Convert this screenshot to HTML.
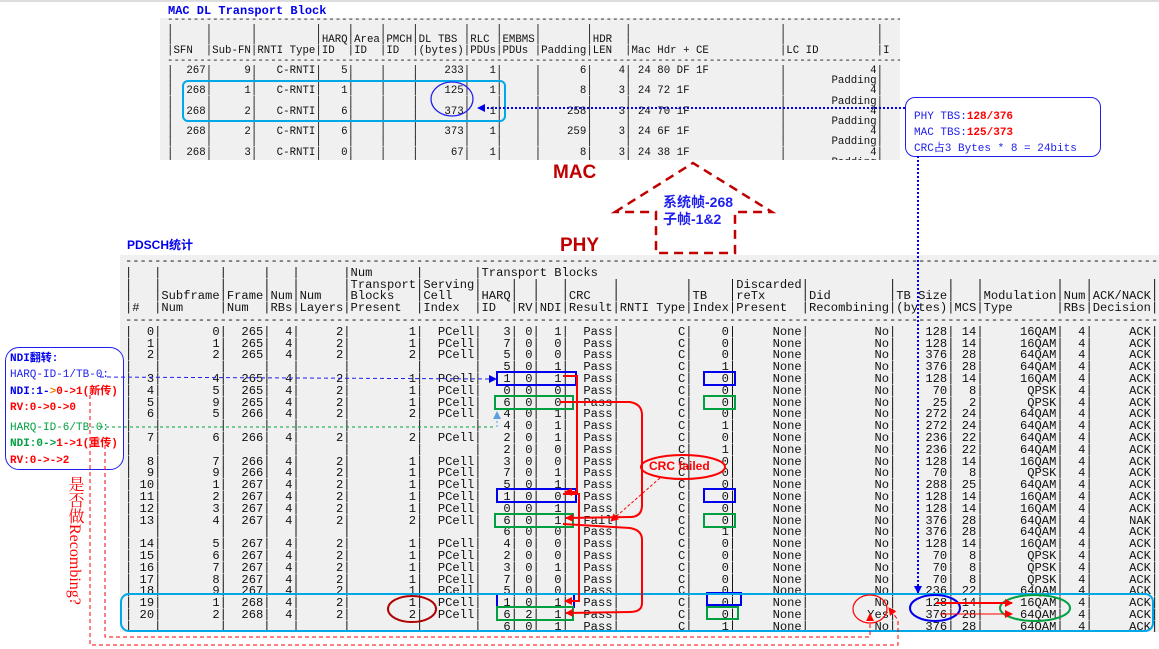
<!DOCTYPE html>
<html><head><meta charset="utf-8"><style>
html,body{margin:0;padding:0;background:#fff;}
body{width:1159px;height:649px;position:relative;overflow:hidden;font-family:"Liberation Sans","Noto Sans CJK SC",sans-serif;}
.panel{position:absolute;background:#f0f0f0;overflow:hidden;}
pre{margin:0;position:absolute;font-family:"Liberation Mono",monospace;color:#111;white-space:pre;}
#mac{left:7px;top:-3px;font-size:10.75px;line-height:10.2px;}
#phy{left:5px;top:1px;font-size:12.13px;line-height:11.8px;}
.t{position:absolute;white-space:nowrap;}
svg{position:absolute;left:0;top:0;}
</style></head><body>
<div style="position:absolute;left:0;top:0;width:1159px;height:2px;background:#ddd"></div>
<div class="t" style="left:168px;top:4px;font-family:'Liberation Mono',monospace;font-weight:bold;font-size:12px;color:#0000ee">MAC DL Transport Block</div>
<div class="panel" style="left:160px;top:18px;width:740px;height:142px"><pre id="mac"></pre></div>
<div class="panel" style="left:120px;top:255px;width:1039px;height:377px"><pre id="phy"></pre></div>
<div class="t" style="left:553px;top:162px;font-size:19px;font-weight:bold;color:#c00000">MAC</div>
<div class="t" style="left:560px;top:235px;font-size:19px;font-weight:bold;color:#c00000">PHY</div>
<div class="t" style="left:127px;top:236px;font-size:12px;font-weight:bold;color:#0000ee">PDSCH统计</div>
<div class="t" style="left:663px;top:194px;font-size:14px;font-weight:bold;color:#2020ee;line-height:17px">系统帧-268<br>子帧-1&amp;2</div>
<div style="position:absolute;left:905px;top:97px;width:194px;height:58px;border:1.5px solid #2020ee;border-radius:10px;background:#fff"></div>
<div class="t" style="left:914px;top:109px;font-family:'Liberation Mono','Noto Sans CJK SC',monospace;font-size:11px;color:#2020ee;line-height:16px">PHY TBS:<b style="color:#f00">128/376</b><br>MAC TBS:<b style="color:#f00">125/373</b><br>CRC占3 Bytes * 8 = 24bits</div>
<div style="position:absolute;left:5px;top:347px;width:117px;height:121px;border:1.5px solid #2020ee;border-radius:14px;background:#fff"></div>
<div class="t" style="left:10px;top:351px;font-family:'Liberation Mono','Noto Sans CJK SC',monospace;font-size:11px;line-height:16.3px">
<b style="color:#0000ee">NDI翻转:</b><br>
<span style="color:#2020ee">HARQ-ID-1/TB-0:</span><br>
<b><span style="color:#0000ee">NDI:1-</span><span style="color:#f08000">&gt;</span><span style="color:#f00">0-&gt;1(新传)</span></b><br>
<b style="color:#f00">RV:0-&gt;0-&gt;0</b><br>
<span style="color:#00a040;display:inline-block;margin-top:4px">HARQ-ID-6/TB-0:</span><br>
<b><span style="color:#00a040">NDI:0-&gt;</span><span style="color:#f00">1-&gt;1(重传)</span></b><br>
<b style="color:#f00">RV:0-&gt;-&gt;2</b></div>
<div style="position:absolute;left:62px;top:476px;width:24px;height:160px;writing-mode:vertical-rl;text-orientation:mixed;white-space:nowrap;font-family:'Liberation Serif','Noto Serif CJK SC',serif;font-size:16px;color:#f00">是否做Recombing?</div>
<div class="t" style="left:649px;top:459px;font-size:12px;font-weight:bold;color:#f00">CRC failed</div>
<svg width="1159" height="649" viewBox="0 0 1159 649">
<defs>
<marker id="ar" markerWidth="8" markerHeight="8" refX="7" refY="4" orient="auto" markerUnits="userSpaceOnUse"><path d="M0,0L8,4L0,8z" fill="#f00"/></marker>
<marker id="ab" markerWidth="8" markerHeight="8" refX="7" refY="4" orient="auto" markerUnits="userSpaceOnUse"><path d="M0,0L8,4L0,8z" fill="#0000ee"/></marker>
<marker id="ac" markerWidth="8" markerHeight="8" refX="7" refY="4" orient="auto" markerUnits="userSpaceOnUse"><path d="M0,0L8,4L0,8z" fill="#5aa0e0"/></marker>
</defs>
<rect x="183" y="81" width="322" height="40" rx="5" fill="none" stroke="#00a8e8" stroke-width="2"/>
<ellipse cx="452" cy="99" rx="21" ry="17" fill="none" stroke="#2020ee" stroke-width="1.3"/>
<line x1="905" y1="108" x2="478" y2="108" stroke="#0000ee" stroke-width="2" stroke-dasharray="2,2" marker-end="url(#ab)"/>
<line x1="918" y1="156" x2="918" y2="593" stroke="#0000ee" stroke-width="2" stroke-dasharray="2,2" marker-end="url(#ab)"/>
<path d="M615,212 L693,163 L772,212 L735,212 L735,253 L656,253 L656,212 Z" fill="none" stroke="#c00000" stroke-width="2.5" stroke-dasharray="9,6"/>
<g fill="none" stroke-width="2">
<rect x="497" y="372" width="79" height="13" stroke="#0000ee"/>
<rect x="495" y="396" width="78" height="13" stroke="#00a040"/>
<rect x="497" y="489" width="79" height="13" stroke="#0000ee"/>
<rect x="495" y="514" width="78" height="13" stroke="#00a040"/>
<rect x="497" y="594" width="77" height="13" stroke="#0000ee"/>
<rect x="497" y="607" width="76" height="13" stroke="#00a040"/>
<rect x="704" y="372" width="31" height="13" stroke="#0000ee"/>
<rect x="704" y="396" width="31" height="13" stroke="#00a040"/>
<rect x="704" y="489" width="31" height="13" stroke="#0000ee"/>
<rect x="704" y="514" width="31" height="13" stroke="#00a040"/>
<rect x="707" y="593" width="34" height="12" stroke="#0000ee"/>
<rect x="707" y="607" width="31" height="12" stroke="#00a040"/>
<rect x="121" y="594" width="1032" height="37" rx="8" stroke="#00a8e8"/>
<ellipse cx="412" cy="609" rx="24" ry="13" stroke="#b00000"/>
<ellipse cx="935" cy="608" rx="25" ry="13" stroke="#0000ee"/>
<ellipse cx="1035" cy="608" rx="35" ry="13" stroke="#00a040"/>
</g>
<ellipse cx="870" cy="609" rx="17" ry="14" fill="none" stroke="#f00" stroke-width="1.2"/>
<ellipse cx="683" cy="467" rx="42" ry="12" fill="none" stroke="#f00" stroke-width="2"/>
<line x1="660" y1="478" x2="611" y2="521" stroke="#f00" stroke-width="1" stroke-dasharray="3,2" marker-end="url(#ar)"/>
<g fill="none" stroke="#f00" stroke-width="2">
<path d="M563,376 L577,376 L577,492 L565,492" marker-end="url(#ar)"/>
<path d="M563,494 L579,494 L579,601 L565,601" marker-end="url(#ar)"/>
<path d="M560,402 L630,402 Q642,404 642,415 L642,505 Q642,517 630,517 L566,518" marker-end="url(#ar)"/>
<path d="M563,524 L630,528 Q642,530 642,540 L642,603 Q642,612 630,612 L566,613" marker-end="url(#ar)"/>
<line x1="936" y1="603" x2="1012" y2="603" marker-end="url(#ar)"/>
</g>
<line x1="940" y1="614" x2="1012" y2="614" stroke="#f00" stroke-width="1" marker-end="url(#ar)"/>
<line x1="100" y1="377" x2="496" y2="379" stroke="#2020ee" stroke-width="1" stroke-dasharray="4,3" marker-end="url(#ab)"/>
<line x1="100" y1="427" x2="496" y2="427" stroke="#00a040" stroke-width="1" stroke-dasharray="3,3"/>
<line x1="497" y1="427" x2="497" y2="412" stroke="#5aa0e0" stroke-width="1" stroke-dasharray="2,2" marker-end="url(#ac)"/>
<g fill="none" stroke="#f00" stroke-width="1" stroke-dasharray="4,3">
<path d="M90,395 L90,645 L898,645 L898,620 L889,608" marker-end="url(#ar)"/>
<path d="M105,445 L105,637 L870,637 L870,614" marker-end="url(#ar)"/>
</g>
</svg>
<script>
function cell(v,w,left){v=String(v);return left? v.padEnd(w).slice(0,w) : v.padStart(w).slice(-w);}
function row(vals,ws,lefts){var s='';for(var i=0;i<ws.length;i++){s+='|'+cell(vals[i]===undefined?'':vals[i],ws[i],lefts&&lefts[i]);}return s+'|';}
var mw=[5,6,9,4,4,4,7,4,5,7,5,23,14];
var mL=[];for(var i=0;i<13;i++){mL.push(true);}
var dash='-'.repeat(200);
var m=[dash,row([],mw)+' ',row(['','','','HARQ','Area','PMCH','DL TBS','RLC','EMBMS','','HDR','',''],mw,mL),row(['SFN','Sub-FN','RNTI Type','ID','ID','ID','(bytes)','PDUs','PDUs','Padding','LEN','Mac Hdr + CE','LC ID'],mw,mL)+'I',dash];
var md=[[267,9,'C-RNTI',5,'','',233,1,'',6,4,'24 80 DF 1F'],[268,1,'C-RNTI',1,'','',125,1,'',8,3,'24 72 1F'],[268,2,'C-RNTI',6,'','',373,1,'',258,3,'24 70 1F'],[268,2,'C-RNTI',6,'','',373,1,'',259,3,'24 6F 1F'],[268,3,'C-RNTI',0,'','',67,1,'',8,3,'24 38 1F']];
var ml=[false,false,false,false,false,false,false,false,false,false,false,true,false];
md.forEach(function(r){r[11]=' '+r[11];r.push(4);m.push(row(r,mw,ml));m.push(row(['','','','','','','','','','','','','Padding'],mw));});
document.getElementById('mac').textContent=m.join('\n');
var pw=[3,8,5,3,6,9,7,4,2,3,6,9,5,9,11,7,3,10,3,8];
var all=pw.map(function(){return true;});
var hd=[["","","","","","Num","","","","","","","","","","","","","",""],
["","","","","","Transport","Serving","","","","","","","Discarded","","","","","",""],
["","Subframe","Frame","Num","Num","Blocks","Cell","HARQ","","","CRC","","TB","reTx","Did","TB Size","","Modulation","Num","ACK/NACK"],
["#","Num","Num","RBs","Layers","Present","Index","ID","RV","NDI","Result","RNTI Type","Index","Present","Recombining","(bytes)","MCS","Type","RBs","Decision"]];
var L=[dash];
L.push(row(hd[0].slice(0,7),pw.slice(0,7),all)+'Transport Blocks'.padEnd(93)+'|');
L.push(row(hd[1],pw,all)+' ');
L.push(row(hd[2],pw,all)+' ');
L.push(row(hd[3],pw,all)+'I');
L.push(dash);
var d=[
[0,0,265,4,2,1,'PCell',3,0,1,'Pass','C',0,'None','No',128,14,'16QAM',4,'ACK'],
[1,1,265,4,2,1,'PCell',7,0,0,'Pass','C',0,'None','No',128,14,'16QAM',4,'ACK'],
[2,2,265,4,2,2,'PCell',5,0,0,'Pass','C',0,'None','No',376,28,'64QAM',4,'ACK'],
['','','','','','','',5,0,1,'Pass','C',1,'None','No',376,28,'64QAM',4,'ACK'],
[3,4,265,4,2,1,'PCell',1,0,1,'Pass','C',0,'None','No',128,14,'16QAM',4,'ACK'],
[4,5,265,4,2,1,'PCell',0,0,0,'Pass','C',0,'None','No',70,8,'QPSK',4,'ACK'],
[5,9,265,4,2,1,'PCell',6,0,0,'Pass','C',0,'None','No',25,2,'QPSK',4,'ACK'],
[6,5,266,4,2,2,'PCell',4,0,1,'Pass','C',0,'None','No',272,24,'64QAM',4,'ACK'],
['','','','','','','',4,0,1,'Pass','C',1,'None','No',272,24,'64QAM',4,'ACK'],
[7,6,266,4,2,2,'PCell',2,0,1,'Pass','C',0,'None','No',236,22,'64QAM',4,'ACK'],
['','','','','','','',2,0,0,'Pass','C',1,'None','No',236,22,'64QAM',4,'ACK'],
[8,7,266,4,2,1,'PCell',3,0,0,'Pass','C',0,'None','No',128,14,'16QAM',4,'ACK'],
[9,9,266,4,2,1,'PCell',7,0,1,'Pass','C',0,'None','No',70,8,'QPSK',4,'ACK'],
[10,1,267,4,2,1,'PCell',5,0,1,'Pass','C',0,'None','No',288,25,'64QAM',4,'ACK'],
[11,2,267,4,2,1,'PCell',1,0,0,'Pass','C',0,'None','No',128,14,'16QAM',4,'ACK'],
[12,3,267,4,2,1,'PCell',0,0,1,'Pass','C',0,'None','No',128,14,'16QAM',4,'ACK'],
[13,4,267,4,2,2,'PCell',6,0,1,'Fail','C',0,'None','No',376,28,'64QAM',4,'NAK'],
['','','','','','','',6,0,0,'Pass','C',1,'None','No',376,28,'64QAM',4,'ACK'],
[14,5,267,4,2,1,'PCell',4,0,0,'Pass','C',0,'None','No',128,14,'16QAM',4,'ACK'],
[15,6,267,4,2,1,'PCell',2,0,0,'Pass','C',0,'None','No',70,8,'QPSK',4,'ACK'],
[16,7,267,4,2,1,'PCell',3,0,1,'Pass','C',0,'None','No',70,8,'QPSK',4,'ACK'],
[17,8,267,4,2,1,'PCell',7,0,0,'Pass','C',0,'None','No',70,8,'QPSK',4,'ACK'],
[18,9,267,4,2,1,'PCell',5,0,0,'Pass','C',0,'None','No',236,22,'64QAM',4,'ACK'],
[19,1,268,4,2,1,'PCell',1,0,1,'Pass','C',0,'None','No',128,14,'16QAM',4,'ACK'],
[20,2,268,4,2,2,'PCell',6,2,1,'Pass','C',0,'None','Yes',376,28,'64QAM',4,'ACK'],
['','','','','','','',6,0,1,'Pass','C',1,'None','No',376,28,'64QAM',4,'ACK']];
d.forEach(function(r){L.push(row(r,pw)+' ');});
L.push(row([],pw));
document.getElementById('phy').textContent=L.join('\n');
</script>
</body></html>
